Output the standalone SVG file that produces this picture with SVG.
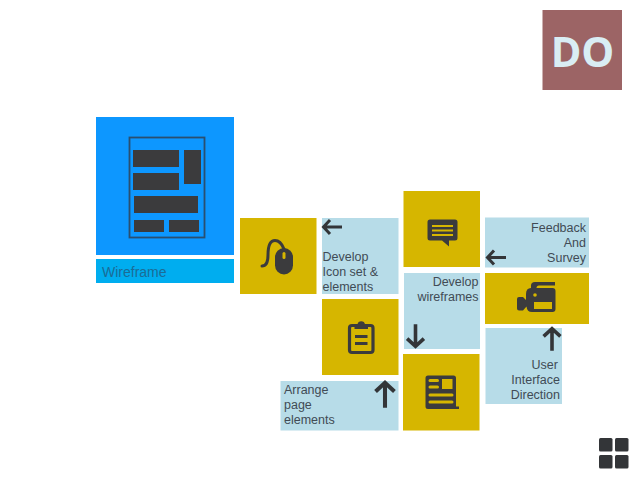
<svg xmlns="http://www.w3.org/2000/svg" width="638" height="478" viewBox="0 0 638 478">
<style>
.y{fill:#d6b600}
.b{fill:#b7dce8}
.d{fill:#3b3b3d}
.l{fill:#d6b600}
.a{fill:none;stroke:#333538;stroke-width:3}
.t{font-family:"Liberation Sans",Arial,sans-serif;font-size:12.500px;fill:#414b55}
.e{text-anchor:end}
</style>
<defs>
<path id="ah" d="M-9 0H9M-3 -7L-9.500 0L-3 7" class="a"/>
</defs>
<rect width="638" height="478" fill="#fff"/>

<g id="do"><rect x="542.500" y="10" width="79.500" height="80" fill="#9c6465"/>
<text x="582.500" y="66.500" text-anchor="middle" font-family="'Open Sans',sans-serif" font-weight="700" font-size="41.500" fill="#d9edf4">DO</text></g>

<g id="wireframe"><rect x="96" y="117" width="138" height="138" fill="#0d97ff"/>
<rect x="129.500" y="137.500" width="75" height="100" fill="none" stroke="#2a4f70" stroke-width="1.800"/>
<rect class="d" x="133" y="150" width="46" height="17"/><rect class="d" x="184" y="150" width="17" height="34"/>
<rect class="d" x="133" y="173" width="46" height="17"/><rect class="d" x="134" y="196" width="64" height="17"/>
<rect class="d" x="134" y="220" width="30" height="12"/><rect class="d" x="169" y="220" width="30" height="12"/></g>
<g id="wireframe-label"><rect x="96" y="259" width="138" height="24" fill="#00adef"/>
<text x="102" y="276.500" font-family="'Liberation Sans',sans-serif" font-size="14" fill="#1b6c96">Wireframe</text></g>

<g id="mouse"><rect class="y" x="240" y="218" width="76.500" height="76"/>
<path d="M262 266C267 266 268 261 268 255C268 247 270 240.500 275 240.500C279 240.500 282 244 284 249" fill="none" stroke="#3b3b3d" stroke-width="3" stroke-linecap="round"/>
<rect class="d" x="275" y="248" width="18" height="26.500" rx="9"/><rect class="l" x="282.500" y="252" width="3" height="7" rx="1.500"/></g>

<g id="icon-set"><rect class="b" x="322" y="218" width="76.500" height="76"/>
<use href="#ah" x="333" y="227"/>
<text class="t" x="322.500" y="261">Develop</text><text class="t" x="322.500" y="276">Icon set &amp;</text><text class="t" x="322.500" y="291">elements</text></g>

<g id="clipboard"><rect class="y" x="322" y="299" width="76.500" height="76"/>
<rect x="349.500" y="325.500" width="23.500" height="27" rx="2.500" fill="none" stroke="#3b3b3d" stroke-width="3.200"/>
<path class="d" d="M354.500 329V324.500H357.500C357.500 320 365 320 365 324.500H368V329Z"/>
<rect class="d" x="355" y="335" width="12.500" height="3"/><rect class="d" x="355" y="342" width="12.500" height="3"/></g>

<g id="arrange"><rect class="b" x="280.500" y="381" width="118" height="49.500"/>
<use href="#ah" transform="translate(385 395.500) rotate(90) scale(1.350)"/>
<text class="t" x="284" y="394">Arrange</text><text class="t" x="284" y="409">page</text><text class="t" x="284" y="424">elements</text></g>

<g id="chat"><rect class="y" x="403.500" y="191" width="76.500" height="76"/>
<path class="d" d="M430 219.500H455Q457.500 219.500 457.500 222V238Q457.500 240.500 455 240.500H449V246.500L442 240.500H430Q427.500 240.500 427.500 238V222Q427.500 219.500 430 219.500Z"/>
<path d="M432 226H453M432 230.500H453M432 235H453" stroke="#d6b600" stroke-width="1.900"/></g>

<g id="wireframes"><rect class="b" x="404" y="273" width="76" height="76"/>
<use href="#ah" transform="translate(415.500 335) rotate(-90) scale(1.200)"/>
<text class="t e" x="478.500" y="285.500">Develop</text><text class="t e" x="478.500" y="300.500">wireframes</text></g>

<g id="newspaper"><rect class="y" x="403" y="354" width="76.500" height="76.500"/>
<path class="d" d="M428 375.500H453.500Q456 375.500 456 378V406.500H459V409H428Q425.500 409 425.500 406.500V378Q425.500 375.500 428 375.500Z"/>
<rect class="l" x="442" y="379" width="10.500" height="10"/><path d="M430 380.500H437.500M430 387H437.500M430 395H452M430 402H452" stroke="#d6b600" stroke-width="3" stroke-linecap="round"/></g>

<g id="feedback"><rect class="b" x="485" y="217.500" width="104" height="50"/>
<use href="#ah" x="497" y="257.500"/>
<text class="t e" x="586" y="232">Feedback</text><text class="t e" x="586" y="247">And</text><text class="t e" x="586" y="262">Survey</text></g>

<g id="camera"><rect class="y" x="485" y="273" width="104" height="51"/>
<path class="d" d="M531 288V285.500Q531 282 535 282H555V285.500H539Q536.500 285.500 536.500 288H552.500Q555.500 288 555.500 291V309Q555.500 312 552.500 312H532Q527 312 526.500 306.500L523 310.500H519Q517 310.500 517 308.500V299Q517 297 519 297H523L526 300V294Q526 288 531 288Z"/>
<rect class="l" x="534" y="302" width="18" height="7"/><circle class="l" cx="535" cy="295" r="1.800"/></g>

<g id="direction"><rect class="b" x="485.500" y="328" width="76.500" height="76"/>
<use href="#ah" transform="translate(552 340) rotate(90) scale(1.200)"/>
<text class="t e" x="558" y="369">User</text><text class="t e" x="560" y="384">Interface</text><text class="t e" x="560" y="399">Direction</text></g>

<g id="grid" fill="#333538"><rect x="599" y="438" width="13.500" height="13.500" rx="1.500"/><rect x="615" y="438" width="13.500" height="13.500" rx="1.500"/><rect x="599" y="455" width="13.500" height="13.500" rx="1.500"/><rect x="615" y="455" width="13.500" height="13.500" rx="1.500"/></g>
</svg>
